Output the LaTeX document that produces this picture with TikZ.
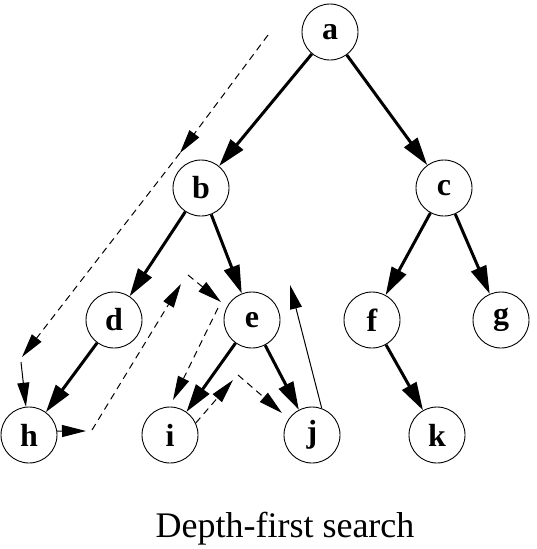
\documentclass[tikz,border=0pt]{standalone}
\usepackage{fontspec}
\setmainfont{Liberation Serif}
\usetikzlibrary{arrows.meta}
\tikzset{
  every node/.style={
    draw,
    circle,
    inner sep=0pt,
    minimum size=56pt,
    line width=0.9pt,
    font=\bfseries\fontsize{32pt}{36pt}\selectfont
  },
  edge from parent/.style={
    draw,
    line width=3pt,
    -{Triangle[length=28pt,width=16pt]}
  },
  walk/.style={
    dashed,
    dash pattern=on 7pt off 5pt,
    line width=1pt,
    -{Triangle[length=24pt,width=12pt]}
  },
  back/.style={
    line width=1pt,
    -{Triangle[length=24pt,width=12pt]}
  }
}

\begin{document}
\begin{tikzpicture}[x=1pt,y=-1pt,
    sibling distance=0pt,
    level 1/.style={level distance=156pt},
    level 2/.style={level distance=132pt},
    level 3/.style={level distance=115pt}]
  \useasboundingbox (0,0) rectangle (537,549);
    \node (a) at (330,32) {a}
      child[xshift=-129pt] { node (b) {b}
        child[xshift=-87pt] { node (d) {d}
          child[xshift=-85pt] { node (h) {h} }
        }
        child[xshift=51pt] { node (e) {e}
          child[xshift=-82pt] { node (i) {i} }
          child[xshift=60pt] { node (j) {j} }
        }
      }
      child[xshift=114pt] { node (c) {c}
        child[xshift=-72pt] { node (f) {f}
          child[xshift=65pt] { node (k) {k} }
        }
        child[xshift=57pt] { node (g) {g} }
      };

    \coordinate (w1) at (268,35);
    \coordinate (w2) at (180,153);
    \coordinate (w3) at (22,357);
    \coordinate (w4) at (21,362);
    \coordinate (w5) at (86,431);
    \coordinate (w6) at (92,430);
    \coordinate (w7) at (181,284);
    \coordinate (w8) at (188,275);
    \coordinate (w9) at (221,302);
    \coordinate (w10) at (218,308);
    \coordinate (w11) at (173,400);
    \coordinate (w13) at (233,380);
    \coordinate (w14) at (238,375);
    \coordinate (w15) at (282,413);
    \coordinate (w17) at (290,285);

    \draw[walk] (w1) -- (w2);
    \draw[walk] (w2) -- (w3);
    \draw[back] (w4) -- (h);
    \draw[back] (h.8) -- (w5);
    \draw[walk] (w6) -- (w7);
    \draw[walk] (w8) -- (w9);
    \draw[walk] (w10) -- (w11);
    \draw[walk] (i.25) -- (w13);
    \draw[walk] (w14) -- (w15);
    \draw[back] (j.70) -- (w17);

    \node[draw=none, rectangle, minimum size=0pt, anchor=base,
      font=\fontsize{36pt}{40pt}\selectfont] (caption) at (285,537) {Depth-first search};
  \end{tikzpicture}
\end{document}
